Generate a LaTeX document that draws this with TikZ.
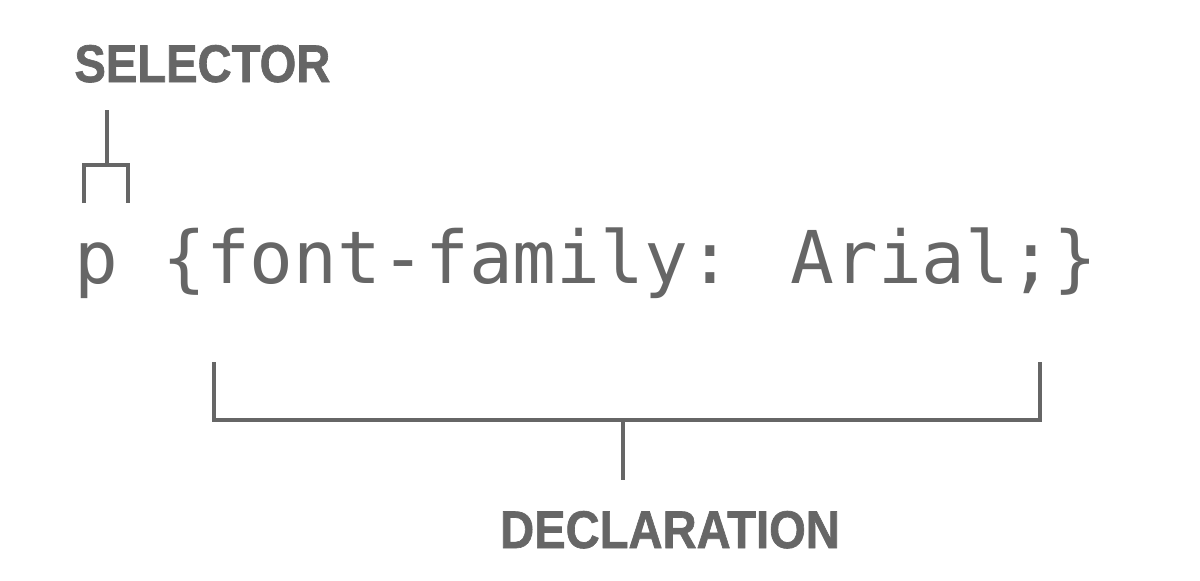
\documentclass[tikz,border=0pt]{standalone}
\usepackage{fontspec}
\usepackage{tikz}
\newfontfamily\labelfont[FakeStretch=0.89,FakeBold=1.2]{Liberation Sans}
\newfontfamily\codefont{DejaVu Sans Mono}
\definecolor{inkgray}{HTML}{666666}

\begin{document}
\begin{tikzpicture}[x=0.5pt, y=-0.5pt, inkgray,
	lbl/.style={inner sep=0, text=inkgray, font=\labelfont\bfseries\fontsize{26.5}{30}\selectfont},
	code/.style={inner sep=0, text=inkgray, font=\codefont\fontsize{36.4}{44}\selectfont},
	brace/.style={draw=inkgray, line width=2pt}]
	\useasboundingbox (0,0) rectangle (1200,580);

	\node[lbl] (sel) [anchor=base west] at (74,82) {SELECTOR};
	\node[code] (rule) [anchor=base] at (586,283) {p \{font-family: Arial;\}};
	\node[lbl] (decl) [anchor=base] at (670,548) {DECLARATION};

	% selector bracket
	\coordinate (selTop) at (107,110);
	\coordinate (selMid) at (107,165);
	\coordinate (selL) at (84,203);
	\coordinate (selR) at (128,203);
	\draw[brace] (selTop) -- (selMid);
	\draw[brace] (selL) |- (selMid) -| (selR);

	% declaration bracket
	\coordinate (declL) at (214,362);
	\coordinate (declR) at (1040,362);
	\coordinate (declMid) at (623,420);
	\coordinate (declBot) at (623,480);
	\draw[brace] (declL) |- (declMid) -| (declR);
	\draw[brace] (declMid) -- (declBot);
\end{tikzpicture}
\end{document}
